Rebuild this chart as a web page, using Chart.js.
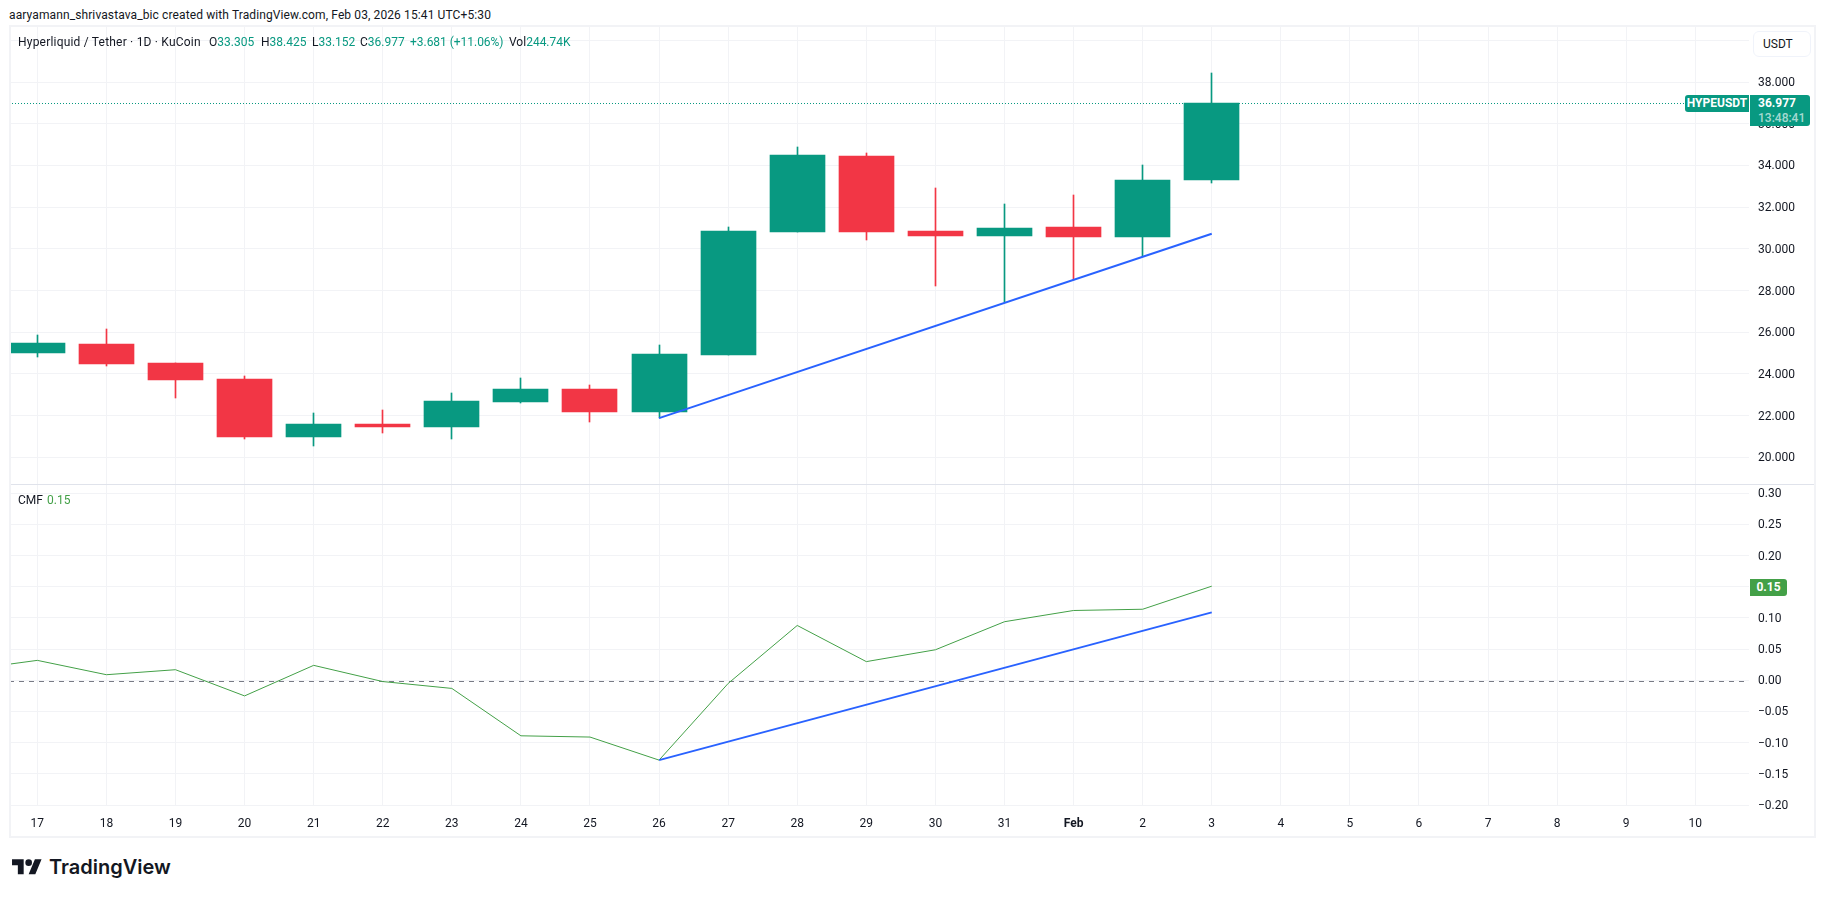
<!DOCTYPE html>
<html>
<head>
<meta charset="utf-8">
<title>HYPEUSDT</title>
<script src="https://cdn.jsdelivr.net/npm/chart.js@4"></script>
<style>
  html, body { margin: 0; padding: 0; background: #fff; width: 1825px; height: 897px; overflow: hidden; }
  body { font-family: Roboto, sans-serif; font-size: 12px; color: #131722; }
  canvas { position: absolute; display: block; }
  .t { position: absolute; white-space: nowrap; line-height: 16px; }
  .g { color: #089981; }
  .frame { position: absolute; left: 9px; top: 25px; width: 1803px; height: 809px; border: 2px solid #f2f3f6; pointer-events: none; }
  .sep { position: absolute; left: 10px; top: 484px; width: 1805px; height: 1px; background: #e0e3eb; }
  .badge { position: absolute; color: #fff; font-weight: 700; text-align: center; }
</style>
</head>
<body>
<canvas id="priceChart" width="1806" height="458" style="left:9px;top:26px"></canvas>
<canvas id="cmfChart" width="1806" height="353" style="left:9px;top:484px"></canvas>
<div class="sep"></div>
<div class="frame"></div>

<div class="t" style="left:9px;top:7px;letter-spacing:.11px">aaryamann_shrivastava_bic created with TradingView.com, Feb 03, 2026 15:41 UTC+5:30</div>

<div class="t" style="left:18px;top:34px;letter-spacing:.2px">Hyperliquid / Tether · 1D · KuCoin</div>
<div class="t" style="left:209px;top:34px">O<span class="g">33.305</span></div>
<div class="t" style="left:261px;top:34px">H<span class="g">38.425</span></div>
<div class="t" style="left:312px;top:34px">L<span class="g">33.152</span></div>
<div class="t" style="left:360px;top:34px">C<span class="g">36.977</span></div>
<div class="t g" style="left:410px;top:34px;letter-spacing:-.03px">+3.681 (+11.06%)</div>
<div class="t" style="left:509px;top:34px">Vol<span class="g">244.74K</span></div>

<div class="t" style="left:18px;top:492px">CMF</div>
<div class="t" style="left:47px;top:492px;color:#43a047">0.15</div>

<div class="t" style="left:1753px;top:31px;width:56px;height:24px;line-height:24px;border:1px solid #f0f3fa;border-radius:6px;text-indent:9px;background:#fff">USDT</div>

<div class="badge" style="left:1685px;top:95px;width:64px;height:17px;line-height:17px;background:#089981;border-radius:3px 0 0 3px">HYPEUSDT</div>
<div class="badge" style="left:1750px;top:95px;width:60px;height:31px;background:#089981;border-radius:0 3px 3px 0;text-align:left;padding:1px 0 0 8px;line-height:15px;box-sizing:border-box">36.977<br><span style="color:rgba(255,255,255,.65);font-weight:500">13:48:41</span></div>
<div class="badge" style="left:1750px;top:579px;width:37px;height:17px;line-height:17px;background:#43a047;border-radius:0 3px 3px 0">0.15</div>

<svg style="position:absolute;left:12px;top:856px" width="30" height="23.3" viewBox="0 0 36 28" fill="#131722"><path d="M14 22H7V11H0V4h14v18zM28 22h-8l7.5-18h8L28 22z"/><circle cx="20" cy="8" r="4"/></svg>
<div class="t" style="left:49px;top:853px;font:600 20px/28px Inter, sans-serif;color:#131722">TradingView</div>

<script>
// dates on the bottom axis, index 0 = 17 Jan
const xLabels = ['17', '18', '19', '20', '21', '22', '23', '24', '25', '26', '27', '28', '29', '30', '31', 'Feb', '2', '3', '4', '5', '6', '7', '8', '9', '10'];

// candles
const opens = [25.00, 25.43, 24.52, 23.76, 20.97, 21.60, 21.45, 22.65, 23.28, 22.17, 24.91, 30.81, 34.45, 30.85, 30.61, 31.05, 30.57, 33.305];
const closes = [25.48, 24.47, 23.71, 20.97, 21.60, 21.45, 22.70, 23.28, 22.17, 24.95, 30.85, 34.50, 30.81, 30.61, 31.00, 30.57, 33.30, 36.977];
const highs = [25.87, 26.15, 24.52, 23.90, 22.12, 22.27, 23.08, 23.80, 23.47, 25.39, 31.05, 34.88, 34.59, 32.92, 32.15, 32.58, 34.02, 38.425];
const lows = [24.83, 24.38, 22.84, 20.88, 20.54, 21.17, 20.88, 22.60, 21.69, 21.88, 24.91, 30.81, 30.42, 28.22, 27.45, 28.50, 29.65, 33.152];

// CMF, first value is the day before the 17th (only its tail shows at the left edge)
const cmfValues = [0.017, 0.032, 0.009, 0.017, -0.025, 0.024, -0.002, -0.013, -0.089, -0.091, -0.128, -0.005, 0.088, 0.030, 0.049, 0.094, 0.112, 0.114, 0.151];

// hand drawn trend lines, [start, end] at index 9 and 17
const trendX = [9, 17];
const priceTrend = [21.88, 30.72];
const cmfTrend = [-0.128, 0.109];

const lastPrice = 36.977;

const GREEN = '#089981';
const RED = '#f23645';
const GRID = '#f2f3f6';
const TEXT = '#131722';
const FONT = 'Roboto, sans-serif';
const X_MIN = -0.41;
const X_MAX = 24.777;

const candleColors = opens.map((o, i) => closes[i] >= o ? GREEN : RED);

// chart.js shrinks the plot so edge labels fit, the panes here have to stay full size
function noEdgePadding(s) {
  s.paddingTop = s.paddingBottom = s.paddingLeft = s.paddingRight = 0;
}

// candles and level lines land on whole pixels, otherwise 1px marks come out blurred
const snapToPixels = {
  id: 'snapToPixels',
  beforeDatasetsDraw(chart) {
    chart.data.datasets.forEach((ds, i) => {
      chart.getDatasetMeta(i).data.forEach(el => {
        if (ds.snapCandle) {
          el.x = Math.floor(el.x) + 0.5;
          el.y = Math.round(el.y);
          el.base = Math.round(el.base);
        } else if (ds.snapLevel !== undefined) {
          el.y = Math.floor(el.y) + 0.5 + ds.snapLevel;
        }
      });
    });
  }
};

function xAxis(showLabels) {
  return {
    type: 'linear',
    min: X_MIN,
    max: X_MAX,
    offset: false,
    border: { display: false },
    grid: { color: GRID, offset: false, drawTicks: false },
    ticks: {
      display: showLabels,
      stepSize: 1,
      includeBounds: false,
      autoSkip: false,
      maxRotation: 0,
      padding: 12,
      color: TEXT,
      font: ctx => ({ family: FONT, size: 12, weight: ctx.tick && xLabels[ctx.tick.value] === 'Feb' ? '700' : '400' }),
      callback: v => xLabels[v]
    },
    afterFit: s => { s.height = showLabels ? 32 : 0; noEdgePadding(s); }
  };
}

function yAxis(min, max, step, format) {
  return {
    position: 'right',
    min: min,
    max: max,
    border: { display: false },
    grid: { color: GRID, drawTicks: false },
    ticks: {
      stepSize: step,
      includeBounds: false,
      padding: 9,
      labelOffset: 1,
      color: TEXT,
      font: { family: FONT, size: 12 },
      callback: format
    },
    afterFit: s => { s.width = 66; noEdgePadding(s); }
  };
}

// price pane
new Chart(document.getElementById('priceChart'), {
  type: 'bar',
  data: {
    datasets: [
      {
        type: 'line',
        data: [{ x: trendX[0], y: priceTrend[0] }, { x: trendX[1], y: priceTrend[1] }],
        borderColor: '#2962ff',
        borderWidth: 2,
        pointRadius: 0,
        order: 0
      },
      {
        type: 'line',
        data: [{ x: X_MIN, y: lastPrice }, { x: X_MAX, y: lastPrice }],
        borderColor: GREEN,
        borderWidth: 1,
        borderDash: [1, 2],
        pointRadius: 0,
        snapLevel: 0,
        order: 1
      },
      {
        data: opens.map((o, i) => ({ x: i, y: [o, closes[i]] })),
        backgroundColor: candleColors,
        barThickness: 55,
        grouped: false,
        snapCandle: true,
        order: 2
      },
      {
        data: opens.map((o, i) => ({ x: i, y: [lows[i], highs[i]] })),
        backgroundColor: candleColors,
        barThickness: 1,
        grouped: false,
        snapCandle: true,
        order: 3
      }
    ]
  },
  options: {
    responsive: false,
    animation: false,
    layout: { padding: 0 },
    plugins: { legend: { display: false }, tooltip: { enabled: false } },
    scales: {
      x: xAxis(false),
      y: yAxis(18.72, 40.686, 2, v => v === 40 ? '' : v.toFixed(3))
    }
  },
  plugins: [snapToPixels]
});

// CMF pane
const cutLastTick = {
  id: 'cutLastTick',
  // the lowest tick label is cut off where the pane ends
  afterDraw(chart) {
    const { ctx, chartArea } = chart;
    ctx.fillStyle = '#fff';
    ctx.fillRect(chartArea.right, chartArea.bottom + 4, 66, 11);
  }
};

new Chart(document.getElementById('cmfChart'), {
  type: 'line',
  data: {
    datasets: [
      {
        data: [{ x: trendX[0], y: cmfTrend[0] }, { x: trendX[1], y: cmfTrend[1] }],
        borderColor: '#2962ff',
        borderWidth: 2,
        pointRadius: 0,
        order: 0
      },
      {
        data: cmfValues.map((v, i) => ({ x: i - 1, y: v })),
        borderColor: '#43a047',
        borderWidth: 1,
        pointRadius: 0,
        tension: 0,
        order: 1
      },
      {
        data: [{ x: X_MIN, y: 0 }, { x: X_MAX, y: 0 }],
        borderColor: '#787b86',
        borderWidth: 1,
        borderDash: [5, 5],
        pointRadius: 0,
        snapLevel: 1,
        order: 2
      }
    ]
  },
  options: {
    responsive: false,
    animation: false,
    layout: { padding: 0 },
    plugins: { legend: { display: false }, tooltip: { enabled: false } },
    scales: {
      x: xAxis(true),
      y: yAxis(-0.2, 0.3149, 0.05, v => (v < 0 ? '\u2212' : '') + Math.abs(v).toFixed(2))
    }
  },
  plugins: [snapToPixels, cutLastTick]
});
</script>
</body>
</html>
